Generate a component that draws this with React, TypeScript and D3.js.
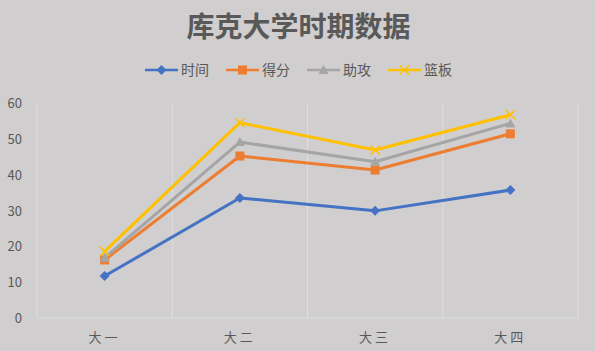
import React from "react"
import * as d3 from "d3"

const categories = ["大一", "大二", "大三", "大四"]
const seriesNames = ["时间", "得分", "助攻", "篮板"]
const timeValues = [11.7, 33.5, 29.9, 35.7]
const scoreValues = [16.2, 45.2, 41.3, 51.4]
const assistValues = [16.8, 49.1, 43.6, 54.3]
const reboundValues = [18.6, 54.5, 46.9, 56.7]
const yTicks = [0, 10, 20, 30, 40, 50, 60]

const COLORS = ["#4472c4", "#ed7d31", "#a5a5a5", "#ffc000"]
const W = 595
const H = 351
const MARGIN = { top: 103, right: 17, bottom: 33, left: 37 }
const FONT = "'Microsoft YaHei', 'Noto Sans CJK SC', sans-serif"

function Marker({ kind, x, y, color }: { kind: number; x: number; y: number; color: string }) {
  if (kind === 0) {
    const s = 5
    return <path d={`M${x},${y - s}L${x + s},${y}L${x},${y + s}L${x - s},${y}Z`} fill={color} />
  }
  if (kind === 1) {
    return <rect x={x - 4.5} y={y - 4.5} width={9} height={9} fill={color} />
  }
  if (kind === 2) {
    return <path d={`M${x},${y - 5}L${x + 5},${y + 4}L${x - 5},${y + 4}Z`} fill={color} />
  }
  const s = 4.5
  return (
    <path
      d={`M${x - s},${y - s}L${x + s},${y + s}M${x + s},${y - s}L${x - s},${y + s}`}
      stroke={color}
      strokeWidth={1.5}
    />
  )
}

export default function App() {
  const series = [timeValues, scoreValues, assistValues, reboundValues]
  const innerW = W - MARGIN.left - MARGIN.right
  const innerH = H - MARGIN.top - MARGIN.bottom

  const x = d3.scaleBand().domain(categories).range([0, innerW])
  const y = d3.scaleLinear().domain([0, 60]).range([innerH, 0])
  const line = d3
    .line<number>()
    .x((_, i) => (x(categories[i]) ?? 0) + x.bandwidth() / 2)
    .y((d) => y(d))

  const legendX = [145, 226, 307, 388]

  return (
    <svg width={W} height={H} style={{ position: "absolute", left: 0, top: 0, display: "block" }}>
      <rect width={W} height={H} fill="#d0cece" />
      <text
        x={W / 2 + 1}
        y={37}
        textAnchor="middle"
        fontSize={28}
        fontWeight="bold"
        fill="#595959"
        fontFamily={FONT}
      >
        库克大学时期数据
      </text>

      {/* Legend */}
      {seriesNames.map((name, i) => (
        <g key={name} transform={`translate(${legendX[i]},70)`}>
          <line x1={0} x2={33} y1={0} y2={0} stroke={COLORS[i]} strokeWidth={2.5} />
          <Marker kind={i} x={16.5} y={0} color={COLORS[i]} />
          <text x={36} y={5} fontSize={14} fill="#595959" fontFamily={FONT}>
            {name}
          </text>
        </g>
      ))}

      <g transform={`translate(${MARGIN.left},${MARGIN.top})`}>
        {/* vertical gridlines at category boundaries */}
        {[...categories.map((c) => x(c) ?? 0), innerW].map((gx, i) => (
          <line key={i} x1={gx} x2={gx} y1={0} y2={innerH} stroke="#dedede" strokeWidth={1} />
        ))}
        <line x1={0} x2={innerW} y1={innerH} y2={innerH} stroke="#dedede" strokeWidth={1} />

        {yTicks.map((t) => (
          <text
            key={t}
            x={-15}
            y={y(t) + 5}
            textAnchor="end"
            fontSize={13}
            fill="#595959"
            fontFamily={FONT}
          >
            {t}
          </text>
        ))}

        {categories.map((c) => (
          <text
            key={c}
            x={(x(c) ?? 0) + x.bandwidth() / 2}
            y={innerH + 24}
            textAnchor="middle"
            fontSize={13}
            fill="#595959"
            fontFamily={FONT}
            letterSpacing={3}
          >
            {c}
          </text>
        ))}

        {series.map((vals, si) => (
          <g key={si}>
            <path
              d={line(vals) ?? ""}
              fill="none"
              stroke={COLORS[si]}
              strokeWidth={3}
              strokeLinejoin="round"
              strokeLinecap="round"
            />
            {vals.map((v, i) => (
              <Marker
                key={i}
                kind={si}
                x={(x(categories[i]) ?? 0) + x.bandwidth() / 2}
                y={y(v)}
                color={COLORS[si]}
              />
            ))}
          </g>
        ))}
      </g>
    </svg>
  )
}
